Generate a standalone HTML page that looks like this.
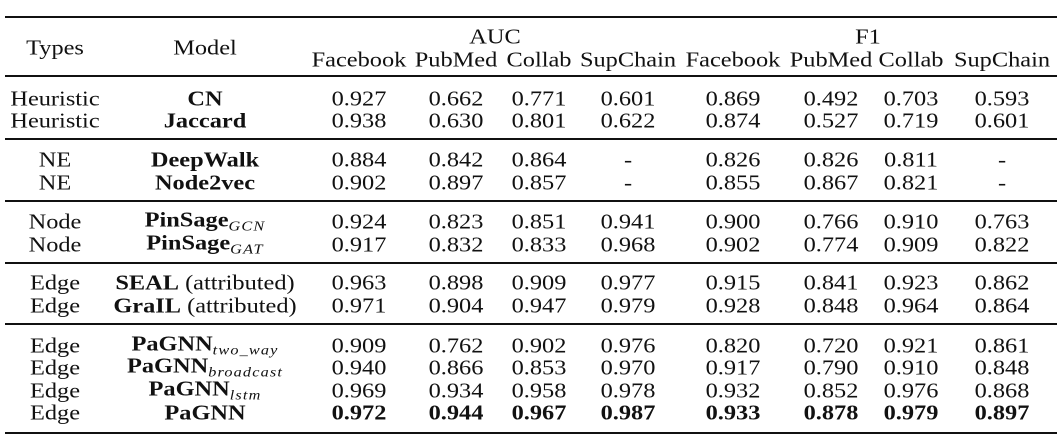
<!DOCTYPE html>
<html><head><meta charset="utf-8"><style>
body{margin:0;width:1064px;height:443px;background:#fff;position:relative;overflow:hidden;font-family:"Liberation Serif",serif;font-size:21px;color:#111}
.t{position:absolute;white-space:nowrap;transform:translate(-50%,-50%) scaleX(1.16);line-height:1}
.b{font-weight:bold}
.r{position:absolute;left:5px;width:1052px;background:#111}
sub{font-style:italic;font-size:14px;font-weight:normal;vertical-align:-4px;letter-spacing:1px}
</style></head><body>
<div class="r" style="top:16px;height:2px"></div>
<div class="r" style="top:75px;height:2px"></div>
<div class="r" style="top:138px;height:1.5px"></div>
<div class="r" style="top:200px;height:1.5px"></div>
<div class="r" style="top:262px;height:1.5px"></div>
<div class="r" style="top:323px;height:1.5px"></div>
<div class="r" style="top:432px;height:2px"></div>
<div id="c"></div>
<script>
var X=[55,205,359,456,539,628,733,831,911,1002];
var H=[];
function t(x,y,s,cls){H.push('<div class="t '+(cls||'')+'" style="left:'+x+'px;top:'+y+'px">'+s+'</div>');}
t(55,48,'Types');t(205,48,'Model');t(495,37,'AUC');t(868,37,'F1');
['Facebook','PubMed','Collab','SupChain','Facebook','PubMed','Collab','SupChain'].forEach(function(s,i){t(X[i+2],60,s);});
var rows=[
[99,'Heuristic','<b>CN</b>','0.927 0.662 0.771 0.601 0.869 0.492 0.703 0.593'],
[121,'Heuristic','<b>Jaccard</b>','0.938 0.630 0.801 0.622 0.874 0.527 0.719 0.601'],
[160,'NE','<b>DeepWalk</b>','0.884 0.842 0.864 - 0.826 0.826 0.811 -'],
[183,'NE','<b>Node2vec</b>','0.902 0.897 0.857 - 0.855 0.867 0.821 -'],
[222,'Node','<b>PinSage</b><sub>GCN</sub>','0.924 0.823 0.851 0.941 0.900 0.766 0.910 0.763'],
[245,'Node','<b>PinSage</b><sub>GAT</sub>','0.917 0.832 0.833 0.968 0.902 0.774 0.909 0.822'],
[283,'Edge','<b>SEAL</b> (attributed)','0.963 0.898 0.909 0.977 0.915 0.841 0.923 0.862'],
[306,'Edge','<b>GraIL</b> (attributed)','0.971 0.904 0.947 0.979 0.928 0.848 0.964 0.864'],
[346,'Edge','<b>PaGNN</b><sub>two_way</sub>','0.909 0.762 0.902 0.976 0.820 0.720 0.921 0.861'],
[368,'Edge','<b>PaGNN</b><sub>broadcast</sub>','0.940 0.866 0.853 0.970 0.917 0.790 0.910 0.848'],
[391,'Edge','<b>PaGNN</b><sub>lstm</sub>','0.969 0.934 0.958 0.978 0.932 0.852 0.976 0.868'],
[413,'Edge','<b>PaGNN</b>','0.972 0.944 0.967 0.987 0.933 0.878 0.979 0.897',1]];
rows.forEach(function(r){t(X[0],r[0],r[1]);t(X[1],r[0],r[2]);r[3].split(' ').forEach(function(v,i){t(X[i+2],r[0],v,r[4]?'b':'');});});
document.getElementById('c').innerHTML=H.join('');
</script>
</body></html>
